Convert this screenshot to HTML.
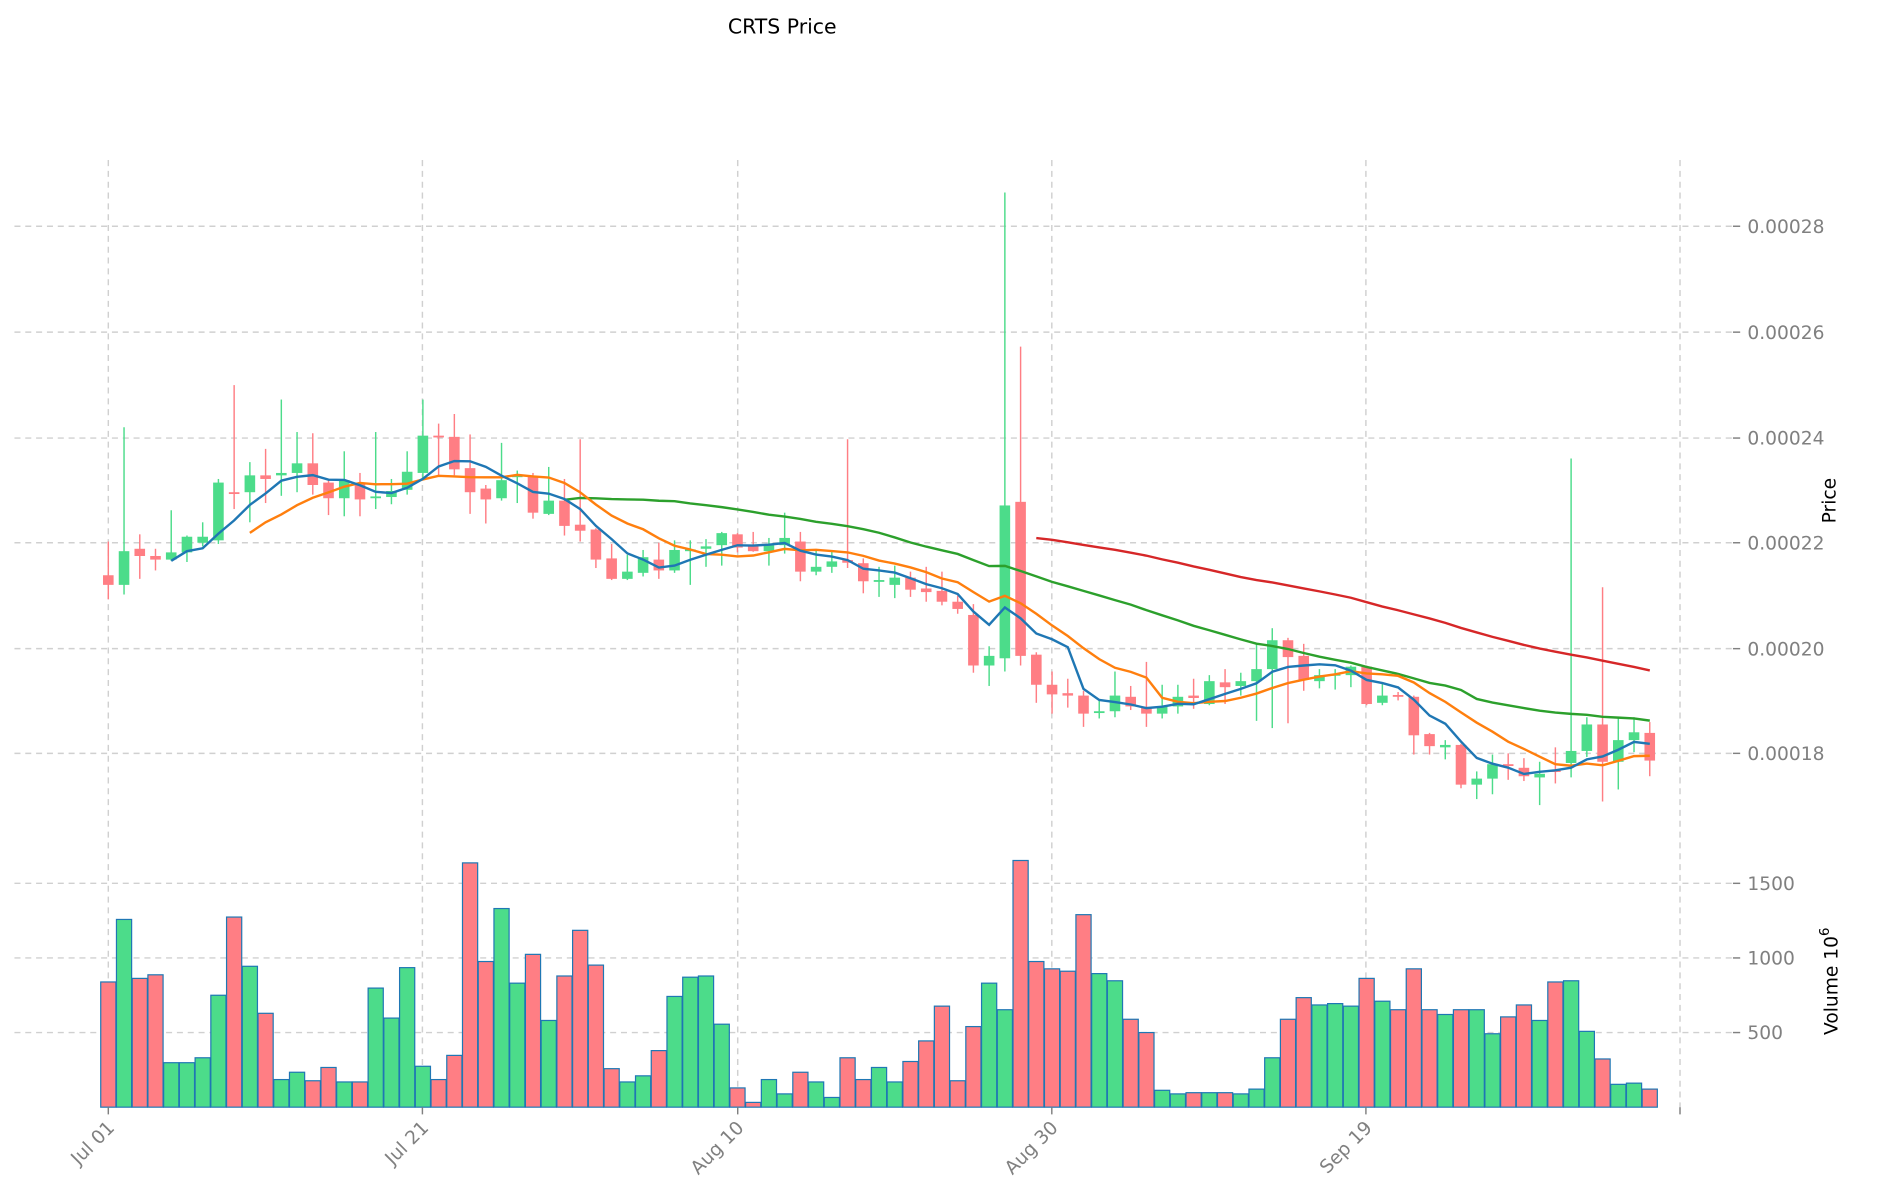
<!DOCTYPE html>
<html><head><meta charset="utf-8"><style>
html,body{margin:0;padding:0;background:#fff;}
svg{display:block;}
text{font-family:"DejaVu Sans","Liberation Sans",sans-serif;}
</style></head><body>
<svg id="c" width="1887" height="1202" viewBox="0 0 1568 998.8" xmlns="http://www.w3.org/2000/svg">
<rect width="1568" height="998.8" fill="#fff"/>
<g id="grid" stroke="#d0d0d0" stroke-width="1.2" stroke-dasharray="5,4" fill="none"></g>
<g id="vol"></g>
<g id="cand"></g>
<g id="ma" fill="none" stroke-width="2"></g>
<g id="axes" fill="#808080" font-size="15.5"></g>
<text x="650" y="28" font-size="17" text-anchor="middle" fill="#000">CRTS Price</text>
<text transform="translate(1525,416) rotate(-90)" font-size="15.5" text-anchor="middle" fill="#000">Price</text>
<text transform="translate(1527,860) rotate(-90)" font-size="15.5" fill="#000">Volume  10<tspan font-size="11" dy="-7">6</tspan></text>
</svg>
<script>
const C=[[478,486,450,498],[486,458,355,494],[456,462,444,481],[462,465,456,474],[465,459,424,466],[459,446,445,467],[451,446,434,454],[449,401,398,452],[409,410,320,423],[409,395,384,434],[395,398,373,418],[395,393,332,412],[393,385,359,409],[385,403,360,411],[401,414,399,428],[414,399,375,429],[401,415,393,429],[413,412.5,359,423],[413,408,398,419],[407,392,375,411],[393,362,332,398],[362,363.5,352,395],[363,390,344,395],[389,409,361,427],[406,415,403,435],[414,399,368,416],[396,395,391,418],[396,426,393,431],[427,416,388,428],[416,437,398,445],[436,441,365,450],[440,465,439,472],[464,481,452,482],[481,475,461,482],[476,463,457,479],[465,474,451,481],[474,457,449,476],[458,456.5,449,486],[456,454,448,471],[453,443,442,470],[444,455,443,459],[453,458,442,458.5],[458,453,447,470],[453,447,426,460],[450,475,442,483],[475,471,457,478],[471,466.5,458,476],[465.4,467.6,365,472],[468,483,464,493],[483,482,471,496],[486,480,470,497],[480,490,475,496],[489,492,471,500],[491,500,475,503],[500,506,495,510],[511,553,502,559],[553,545,537,570],[547,420,160,558],[417,545,288,553],[544,569,542,584],[569,577,558,593],[576,578,564,588],[578,593,574,604],[592,591,581,597],[591,578,558,596],[579,587,570,590],[588,593,550,604],[593,587,569,597],[587,579,569,593],[578,580,564,589],[585,566,561,586],[567,571,556,585],[570,566,559,578],[566,556,535,599],[556,532,522,605],[532,546,530,601],[545,565,535,574],[566,561,556,572],[561,560,556,573],[561,554,553,571],[554,585,553,586],[584,578,568,586],[577.5,579,575,582],[579,611,578,627],[610,620,609,627],[621,619,615,631],[619,652,618,655],[652,647,641,664],[647,635,627,660],[635,636.5,626,648],[638,645,630,649],[646,643,633,669],[640,641.2,621,651],[634,624,381,646],[624,602,596,629],[602,633,488,666],[633,615,597,656],[615,608.5,596,625],[609,632,600,645]];
const V=[839,1258,863,887,298,298,331,750,1274,944,629,185,234,177,266,169,169,798,597,935,274,185,347,1637,976,1331,831,1024,581,879,1185,952,258,169,210,379,742,871,879,556,129,32,185,89,234,169,65,331,185,266,169,306,444,677,177,540,831,653,1653,976,927,911,1290,895,847,589,500,113,89,97,97,97,89,121,331,589,734,685,694,677,863,710,653,927,653,621,653,653,492,605,685,581,839,847,508,323,153,161,121];
const NS='http://www.w3.org/2000/svg';
function el(p,t,a,txt){const e=document.createElementNS(NS,t);for(const k in a)e.setAttribute(k,a[k]);if(txt!==undefined)e.textContent=txt;document.getElementById(p).appendChild(e);return e;}
const X=i=>90+13.07*i;
const G='#4cdc8a',R='#ff7e84';
[188,276,364,451,539,626,734,796,858].forEach(y=>el('grid','line',{x1:12,x2:1440,y1:y,y2:y}));
const xt=[[90,'Jul 01'],[351,'Jul 21'],[613,'Aug 10'],[874,'Aug 30'],[1135,'Sep 19'],[1396,'']];
xt.forEach(([x,l])=>{el('grid','line',{x1:x,x2:x,y1:133,y2:920});
 el('axes','line',{x1:x,x2:x,y1:920,y2:926,stroke:'#808080','stroke-width':1.2});
 if(l)el('axes','text',{transform:`translate(${x+6},${938}) rotate(-45)`,'text-anchor':'end'},l);});
[[188,'0.00028'],[276,'0.00026'],[364,'0.00024'],[451,'0.00022'],[539,'0.00020'],[626,'0.00018']].forEach(([y,l])=>{
 el('axes','line',{x1:1440,x2:1446,y1:y,y2:y,stroke:'#808080','stroke-width':1.2});
 el('axes','text',{x:1452,y:y+5.5},l);});
[[734,'1500'],[796,'1000'],[858,'500']].forEach(([y,l])=>{
 el('axes','line',{x1:1440,x2:1446,y1:y,y2:y,stroke:'#808080','stroke-width':1.2});
 el('axes','text',{x:1452,y:y+5.5},l);});
V.forEach((v,i)=>{const h=v*0.124;const c=C[i];const col=c[1]<c[0]?G:R;
 el('vol','rect',{x:X(i)-6.3,y:920-h,width:12.6,height:h,fill:col,stroke:'#1f77b4','stroke-width':1});});
C.forEach((c,i)=>{const col=c[1]<c[0]?G:R;const x=X(i);
 el('cand','line',{x1:x,x2:x,y1:c[2],y2:c[3],stroke:col,'stroke-width':1.2});
 const t=Math.min(c[0],c[1]),b=Math.max(c[0],c[1]);
 el('cand','rect',{x:x-4.4,y:t,width:8.8,height:Math.max(b-t,1.5),fill:col});});
function ma(n,col){let pts=[];for(let i=n-1;i<C.length;i++){let s=0;for(let j=i-n+1;j<=i;j++)s+=C[j][1];pts.push(X(i).toFixed(1)+','+(s/n).toFixed(1));}
 el('ma','polyline',{points:pts.join(' '),stroke:col});}
ma(60,'#d62728');ma(30,'#2ca02c');ma(10,'#ff7f0e');ma(5,'#1f77b4');
</script>
</body></html>
